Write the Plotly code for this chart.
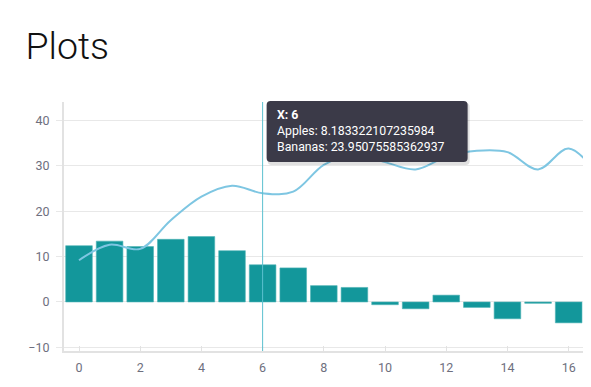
import plotly.graph_objects as go

x_vals = list(range(18))
apples = [12.4, 13.4, 12.2, 13.8, 14.4, 11.3, 8.183322107235984, 7.5, 3.6, 3.2,
          -0.6, -1.5, 1.5, -1.2, -3.7, -0.3, -4.6, -8.0]
bananas = [9.2, 12.6, 11.7, 18.0, 23.2, 25.6, 23.95075585362937, 24.3, 30.2, 32.6,
           30.8, 29.2, 32.0, 33.3, 33.0, 29.2, 33.8, 27.5]
x_ticks = [0, 2, 4, 6, 8, 10, 12, 14, 16]
y_ticks = [-10, 0, 10, 20, 30, 40]
hover_x = 6

BAR = "#13979b"
LINE = "#7ec6e2"
GRID = "#e8e8e8"
AXIS = "#e2e2e2"
TICKTXT = "#6e6f7e"

W, H = 583, 371

fig = go.Figure()
fig.add_trace(go.Bar(x=x_vals, y=apples, name="Apples",
                     marker=dict(color=BAR, line=dict(color="#4fb3b6", width=0.6))))
fig.add_trace(go.Scatter(x=x_vals, y=bananas, name="Bananas", mode="lines",
                         line=dict(color=LINE, width=2, shape="spline", smoothing=1)))

# hover crosshair
fig.add_shape(type="line", xref="x", yref="paper", x0=hover_x, x1=hover_x, y0=0, y1=1,
              line=dict(color="#5cc0cf", width=1), layer="above")

# tooltip box (rounded, in pixels anchored at the hover x)
def rrect(x0, y0, x1, y1, r):
    return (f"M{x0+r},{y0} L{x1-r},{y0} Q{x1},{y0} {x1},{y0-r} "
            f"L{x1},{y1+r} Q{x1},{y1} {x1-r},{y1} L{x0+r},{y1} Q{x0},{y1} {x0},{y1+r} "
            f"L{x0},{y0-r} Q{x0},{y0} {x0+r},{y0} Z")

fig.add_shape(type="path", xref="x", yref="paper", xsizemode="pixel", ysizemode="pixel",
              xanchor=hover_x, yanchor=1, path=rrect(5, -1, 207, -63, 4),
              fillcolor="rgba(0,0,0,0.12)", line=dict(width=0), layer="above")
fig.add_shape(type="path", xref="x", yref="paper", xsizemode="pixel", ysizemode="pixel",
              xanchor=hover_x, yanchor=1, path=rrect(4, 1, 205, -60, 4),
              fillcolor="#3b3a48", line=dict(width=0), layer="above")

i = x_vals.index(hover_x)
tip = (f"<b>X: {hover_x}</b><br>Apples: {apples[i]}<br>Bananas: {bananas[i]}")
fig.add_annotation(xref="x", yref="paper", x=hover_x, y=1, xanchor="left", yanchor="top",
                   xshift=12, yshift=-4, text=tip, showarrow=False, align="left",
                   font=dict(family="Roboto", size=12.3, color="#ffffff"))

fig.update_layout(
    width=W, height=H,
    margin=dict(l=56, r=0, t=94, b=28),
    paper_bgcolor="white", plot_bgcolor="white",
    showlegend=False, bargap=0.13, hovermode=False,
    title=dict(text="Plots", x=17.5 / W, xanchor="left", y=1 - 38 / H, yanchor="middle",
               font=dict(family="Roboto", size=37.5, color="#111111", weight=300)),
    font=dict(family="Roboto", size=12, color=TICKTXT),
)
fig.update_xaxes(range=[-0.49, 16.73], tickvals=x_ticks, ticks="inside", ticklen=5,
                 tickcolor=AXIS, tickwidth=1, showgrid=False, zeroline=False,
                 showline=True, linecolor=AXIS, linewidth=2, ticklabelstandoff=4,
                 tickfont=dict(family="Roboto", size=12.5, color=TICKTXT))
fig.update_yaxes(range=[-10.8, 44.05], tickvals=y_ticks, ticks="outside", ticklen=6,
                 tickcolor=GRID, tickwidth=1, showgrid=True, gridcolor=GRID, gridwidth=1,
                 zeroline=False, showline=True, linecolor=AXIS, linewidth=2,
                 ticklabelstandoff=4,
                 tickfont=dict(family="Roboto", size=12.5, color=TICKTXT))

fig.write_html("out.html")
